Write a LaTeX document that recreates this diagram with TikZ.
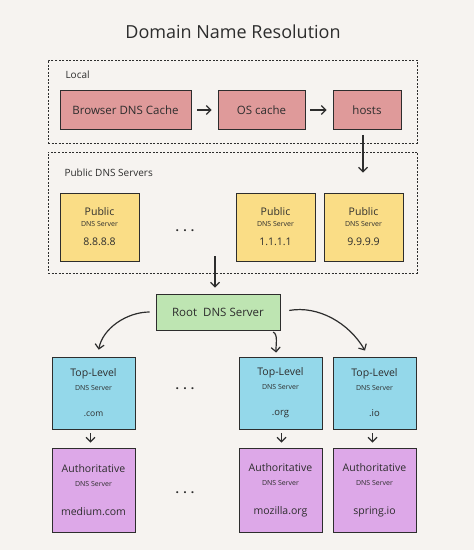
\documentclass[tikz,border=0pt]{standalone}
\usepackage{fontspec}
\setmainfont{Open Sans}
\usetikzlibrary{arrows.meta}
\definecolor{paper}{HTML}{F6F3F0}
\definecolor{ink}{HTML}{2D2D2D}
\definecolor{cachered}{HTML}{DF9A9A}
\definecolor{pubyellow}{HTML}{FADD86}
\definecolor{rootgreen}{HTML}{BEE5B2}
\definecolor{tldblue}{HTML}{94D8EA}
\definecolor{authpurple}{HTML}{DDA8E8}
\newcommand{\bigtxt}{\fontsize{10.5}{12}\selectfont}
\newcommand{\smalltxt}{\fontsize{7}{8}\selectfont}
\tikzset{
  box/.style={draw=ink, line width=0.8pt, text=ink, align=center, inner sep=1pt},
  cachebox/.style={box, fill=cachered, minimum height=39pt, font=\fontsize{11.5}{13}\selectfont},
  pubbox/.style={box, fill=pubyellow, minimum width=79pt, minimum height=68pt, font=\bigtxt},
  tldbox/.style={box, fill=tldblue, minimum width=83pt, minimum height=72pt, font=\bigtxt},
  authbox/.style={box, fill=authpurple, minimum width=83pt, minimum height=84pt, font=\bigtxt},
  group/.style={draw=ink, line width=0.8pt, dash pattern=on 2pt off 1.5pt, minimum width=369pt},
  tag/.style={text=ink, anchor=west, font=\fontsize{10}{12}\selectfont},
  more/.style={text=ink, font=\bfseries\fontsize{12}{12}\selectfont},
  arr/.style={draw=ink, line width=1.2pt, -{Straight Barb[length=4.5pt,width=9pt]}}
}
\begin{document}
\begin{tikzpicture}[x=1pt,y=1pt]
\fill[paper] (0,0) rectangle (474,550);
\useasboundingbox (0,0) rectangle (474,550);
\node[text=ink, font=\fontsize{18}{20}\selectfont] (title) at (233,518) {Domain Name Resolution};

% local caches
\node[group, minimum height=83pt] (local) at (232.5,448.5) {};
\node[tag] (localtag) at (62,475) {Local};
\node[cachebox, minimum width=131pt] (browser) at (125.5,440) {Browser DNS Cache};
\node[cachebox, minimum width=87pt] (os) at (261.5,440) {OS cache};
\node[cachebox, minimum width=68pt] (hosts) at (367,440) {hosts};
\draw[arr, shorten <=6pt, shorten >=6pt] (browser) -- (os);
\draw[arr, shorten <=5pt, shorten >=6pt] (os) -- (hosts);

% public resolvers
\node[group, minimum height=121pt] (public) at (232.5,337.5) {};
\node[tag] (publictag) at (61,377) {Public DNS Servers};
\node[pubbox] (pub1) at (99.5,323) {Public\\[-1pt]{\smalltxt DNS Server}\\[7pt]8.8.8.8};
\node[pubbox] (pub2) at (275.5,323) {Public\\[-1pt]{\smalltxt DNS Server}\\[7pt]1.1.1.1};
\node[pubbox] (pub3) at (363.5,323) {Public\\[-1pt]{\smalltxt DNS Server}\\[7pt]9.9.9.9};
\node[more] (dots1) at (185,319) {. . .};
\draw[arr, shorten <=5pt, shorten >=20pt] ([xshift=-4pt]hosts.south) -- ([xshift=-4pt]hosts.south |- pub3.north);

% root
\node[box, fill=rootgreen, minimum width=124pt, minimum height=36pt, font=\fontsize{11.5}{13}\selectfont] (root) at (218,238) {Root~ DNS Server};
\draw[arr, shorten >=6pt] ([yshift=17pt]public.south -| 215,0) -- (root.north -| 215,0);

% top level domains
\node[tldbox] (tld1) at (93.5,157) {Top-Level\\[2pt]{\smalltxt DNS Server}\\[14pt]{\fontsize{8.5}{10}\selectfont .com}};
\node[tldbox] (tld2) at (280.5,157) {Top-Level\\[2pt]{\smalltxt DNS Server}\\[14pt]{\fontsize{9.5}{10}\selectfont .org}};
\node[tldbox] (tld3) at (374.5,157) {Top-Level\\[2pt]{\smalltxt DNS Server}\\[14pt]{\fontsize{9.5}{10}\selectfont .io}};
\node[more] (dots2) at (185,161) {. . .};
\draw[arr, shorten <=6pt, shorten >=7pt] (root.west) to[out=180, in=80] ([xshift=4pt]tld1.north);
\draw[arr, shorten <=5pt, shorten >=4pt] ([xshift=-12pt]root.south east) to[out=-20, in=95] ([xshift=-4pt]tld2.north);
\draw[arr, shorten <=9pt, shorten >=7pt] (root.east) to[out=10, in=120] ([xshift=-6pt]tld3.north);

% authoritative
\node[authbox] (auth1) at (93.5,60) {Authoritative\\[2pt]{\smalltxt DNS Server}\\[17pt]medium.com};
\node[authbox] (auth2) at (280.5,60) {Authoritative\\[2pt]{\smalltxt DNS Server}\\[17pt]mozilla.org};
\node[authbox] (auth3) at (374.5,60) {Authoritative\\[2pt]{\smalltxt DNS Server}\\[17pt]spring.io};
\node[more] (dots3) at (185,57) {. . .};
\draw[arr, shorten <=4pt, shorten >=5pt] ([xshift=-3pt]tld1.south) -- ([xshift=-3pt]auth1.north);
\draw[arr, shorten <=4pt, shorten >=5pt] ([xshift=1pt]tld2.south) -- ([xshift=1pt]auth2.north);
\draw[arr, shorten <=4pt, shorten >=5pt] ([xshift=-2pt]tld3.south) -- ([xshift=-2pt]auth3.north);
\end{tikzpicture}
\end{document}
